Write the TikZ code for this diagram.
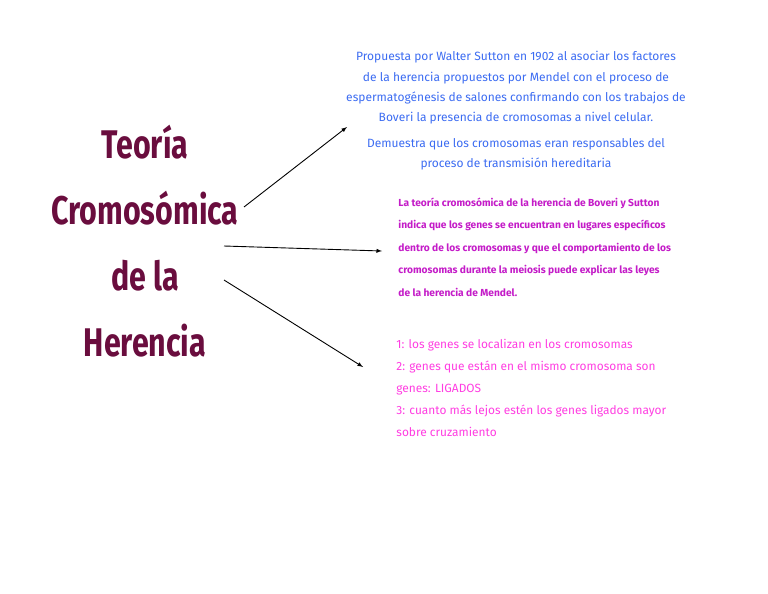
\documentclass[tikz,border=0pt]{standalone}
\usepackage{fontspec}
\setmainfont{Fira Sans}
\newfontfamily\titlefont{Fira Sans}[FakeStretch=0.76]
\usetikzlibrary{positioning}
\definecolor{wine}{HTML}{6A0D3E}
\definecolor{noteblue}{HTML}{3C6CF2}
\definecolor{notepurple}{HTML}{C41CC8}
\definecolor{notepink}{HTML}{FF3EE2}

\begin{document}
\begin{tikzpicture}[x=1pt,y=-1pt,line width=0.9pt]
    % `title' is the big heading on the left.
    % `bluenote', `purplenote' and `pinknote' are the three text blocks.
    \tikzstyle{title} = [text=wine,align=center,inner sep=0pt,
                         font=\titlefont\bfseries\fontsize{40}{66}\selectfont]
    \tikzstyle{bluenote} = [text=noteblue,align=center,inner sep=0pt,
                            font=\fontsize{12}{20.3}\selectfont]
    \tikzstyle{purplenote} = [text=notepurple,align=left,inner sep=0pt,anchor=west,
                              font=\bfseries\fontsize{10.2}{22.5}\selectfont]
    \tikzstyle{pinknote} = [text=notepink,align=left,inner sep=0pt,anchor=west,
                            font=\fontsize{11.9}{22}\selectfont]
    \tikzstyle{link} = [-latex,black]
    %
    \useasboundingbox (0,0) rectangle (768,594);
    \fill[white] (0,0) rectangle (768,594);
    %
    \node[title] (theory) at (145,241) {Teoría\\Cromosómica\\de la\\Herencia};
    %
    \node[bluenote] (proposal) at (516,88)
      {Propuesta por Walter Sutton en 1902 al asociar los factores\\
       de la herencia propuestos por Mendel con el proceso de\\
       espermatogénesis de salones confirmando con los trabajos de\\
       Boveri la presencia de cromosomas a nivel celular.};
    \node[bluenote] (demo) at (516,154)
      {Demuestra que los cromosomas eran responsables del\\
       proceso de transmisión hereditaria};
    %
    \node[purplenote] (boveri) at (398,247)
      {La teoría cromosómica de la herencia de Boveri y Sutton\\
       indica que los genes se encuentran en lugares específicos\\
       dentro de los cromosomas y que el comportamiento de los\\
       cromosomas durante la meiosis puede explicar las leyes\\
       de la herencia de Mendel.};
    %
    \node[pinknote] (points) at (396,388)
      {1: los genes se localizan en los cromosomas\\
       2: genes que están en el mismo cromosoma son\\
       genes: LIGADOS\\
       3: cuanto más lejos estén los genes ligados mayor\\
       sobre cruzamiento};
    %
    % Arrow ends.
    \coordinate (from1) at (244,207);
    \coordinate (from2) at (224,246);
    \coordinate (from3) at (224,280);
    \coordinate (to1) at (347,127);
    \coordinate (to2) at (382,251);
    \coordinate (to3) at (363,367);
    \draw[link] (from1) -- (to1);
    \draw[link] (from2) -- (to2);
    \draw[link] (from3) -- (to3);
\end{tikzpicture}
\end{document}
